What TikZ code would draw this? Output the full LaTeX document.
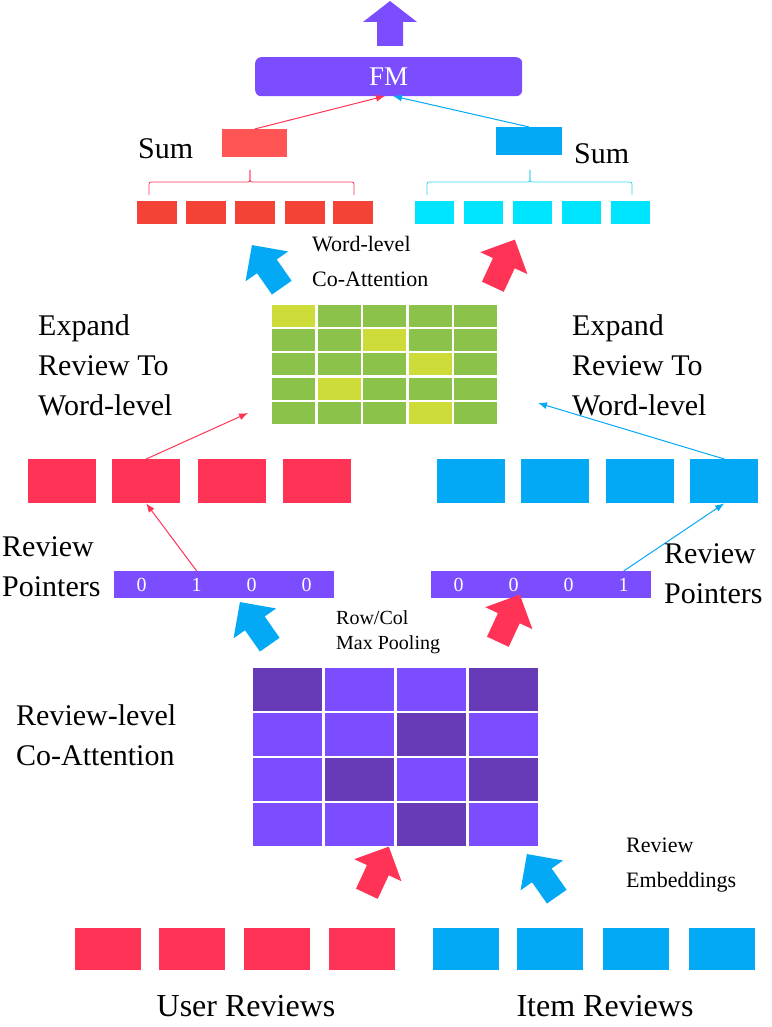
\documentclass[tikz,border=0pt]{standalone}
\usepackage{fontspec}
\setmainfont{Liberation Serif}
\usetikzlibrary{arrows.meta}
\definecolor{rd}{HTML}{FF3355}
\definecolor{bl}{HTML}{03A9F4}
\definecolor{pu}{HTML}{7C4DFF}
\definecolor{dpu}{HTML}{673AB7}
\definecolor{sr}{HTML}{F44336}
\definecolor{cy}{HTML}{00E5FF}
\definecolor{gr}{HTML}{8BC34A}
\definecolor{yg}{HTML}{CDDC39}
\definecolor{sumr}{HTML}{FF5555}
\definecolor{brc}{HTML}{33D6EE}
\tikzset{
 box/.style={draw=none,inner sep=0pt,anchor=north west},
 big/.style={font=\fontsize{30}{40}\selectfont,align=left,anchor=north west,inner sep=0pt},
 mid/.style={font=\fontsize{22}{35}\selectfont,align=left,anchor=north west,inner sep=0pt},
 sml/.style={font=\fontsize{20}{25}\selectfont,align=left,anchor=north west,inner sep=0pt},
 con/.style={line width=1pt,-{Latex[length=9pt,width=7pt]}},
 pt/.style={box,fill=pu,minimum width=55pt,minimum height=27pt,text=white,font=\fontsize{20}{20}\selectfont},
}
\newcommand\blockarrow[4]{\fill[#1,shift={(#2,#3)},rotate=#4] (0,-28)--(26,-2)--(12,-2)--(12,24)--(-12,24)--(-12,-2)--(-26,-2)--cycle;}
\begin{document}
\begin{tikzpicture}[x=1pt,y=-1pt]
\useasboundingbox (0,0) rectangle (771,1027);
% top
\fill[pu] (363,22)--(390,1)--(417,22)--(403,22)--(403,46)--(377,46)--(377,22)--cycle;
\node[box,fill=pu,rounded corners=6pt,minimum width=267pt,minimum height=39pt] (fm) at (255,57) {};
\node[text=white,font=\fontsize{27}{30}\selectfont] at (fm.center) {FM};
\node[box,fill=sumr,minimum width=65pt,minimum height=28pt] (sr) at (222,129) {};
\node[box,fill=bl,minimum width=66pt,minimum height=28pt] (sb) at (496,127) {};
\coordinate (fmr) at (385,96); \coordinate (fmb) at (393,96);
\draw[con,rd] (sr.north) -- (fmr);
\draw[con,bl] (sb.north) -- (fmb);
\node[big] at (138,138) {Sum};
\node[big] at (574,143) {Sum};
\draw[rd,line width=0.8pt,rounded corners=2pt] (149,195)--(149,182)--(250,182)--(250,170);
\draw[rd,line width=0.8pt,rounded corners=2pt] (250,170)--(250,182)--(354,182)--(354,195);
\draw[brc,line width=0.8pt,rounded corners=2pt] (427,195)--(427,182)--(530,182)--(530,170);
\draw[brc,line width=0.8pt,rounded corners=2pt] (530,170)--(530,182)--(632,182)--(632,195);
\foreach \x [count=\i] in {137,186,235,285,333}{\node[box,fill=sr,minimum width=40pt,minimum height=23pt] (w\i) at (\x,201) {};}
\foreach \x [count=\i] in {415,464,513,562,611}{\node[box,fill=cy,minimum width=39pt,minimum height=23pt] (v\i) at (\x,201) {};}
\blockarrow{bl}{268}{268}{35}
\blockarrow{rd}{503}{265}{-25}
\node[mid] at (312,236) {Word-level\\Co-Attention};
% green grid
\foreach \r in {0,...,4}{\foreach \c in {0,...,4}{
  \fill[gr] (272+\c*45.5,305+\r*24.2) rectangle ++(43,22);}}
\foreach \c/\r in {0/0,2/1,3/2,1/3,3/4}{\fill[yg] (272+\c*45.5,305+\r*24.2) rectangle ++(43,22);}
\coordinate (gl) at (248,413); \coordinate (gr) at (538,403);
\node[big] at (38,314) {Expand\\Review To\\Word-level};
\node[big] at (572,314) {Expand\\Review To\\Word-level};
\foreach \x [count=\i] in {28,112,198,283}{\node[box,fill=rd,minimum width=68pt,minimum height=44pt] (r\i) at (\x,459) {};}
\foreach \x [count=\i] in {437,521,606,690}{\node[box,fill=bl,minimum width=68pt,minimum height=44pt] (b\i) at (\x,459) {};}
\draw[con,rd] (r2.north) -- (gl);
\draw[con,bl] (b4.north) -- (gr);
% pointers
\foreach \x/\d [count=\i] in {114/0,169/1,224/0,279/0}{\node[pt] (p\i) at (\x,571) {\d};}
\foreach \x/\d [count=\i] in {431/0,486/0,541/0,596/1}{\node[pt] (q\i) at (\x,571) {\d};}
\draw[con,rd] (p2.north) -- (r2.south);
\draw[con,bl] (q4.north) -- (b4.south);
\node[big] at (2,536) {Review\\Pointers};
\node[big] at (664,543) {Review\\Pointers};
\blockarrow{bl}{256}{625}{35}
\blockarrow{rd}{508}{620}{-25}
\node[sml] at (336,610) {Row/Col\\Max Pooling};
% purple grid
\foreach \r in {0,...,3}{\foreach \c in {0,...,3}{
  \fill[pu] (253+\c*72,668+\r*45) rectangle ++(69,43);}}
\foreach \c/\r in {0/0,3/0,2/1,1/2,3/2,2/3}{\fill[dpu] (253+\c*72,668+\r*45) rectangle ++(69,43);}
\node[big] at (16,704) {Review-level\\Co-Attention};
\blockarrow{rd}{377}{872}{-25}
\blockarrow{bl}{543}{877}{35}
\node[mid] at (626,838) {Review\\Embeddings};
\foreach \x [count=\i] in {75,159,244,329}{\node[box,fill=rd,minimum width=66pt,minimum height=42pt] (u\i) at (\x,928) {};}
\foreach \x [count=\i] in {433,517,603,689}{\node[box,fill=bl,minimum width=66pt,minimum height=42pt] (t\i) at (\x,928) {};}
\node[font=\fontsize{32}{34}\selectfont] at (246,1006) {User Reviews};
\node[font=\fontsize{32}{34}\selectfont] at (605,1006) {Item Reviews};
\end{tikzpicture}
\end{document}
